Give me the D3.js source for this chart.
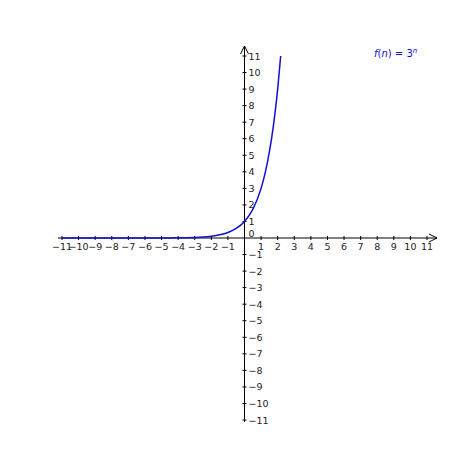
<!DOCTYPE html>
<html><head><meta charset="utf-8">
<script src="https://cdn.jsdelivr.net/npm/d3@7"></script>
<style>body{margin:0;background:#fff}text{font-family:"DejaVu Sans",sans-serif;font-size:9.5px;fill:#222}</style>
</head><body><div class="chart"></div>
<script>
let svgWidth = 474, svgHeight = 474;

let tickValues = d3.range(-11, 12).filter(d => d !== 0);
let curveN = [-11, -6, -4, -3, -2.5, -2, -1.5, -1, -0.5, 0, 0.5, 1, 1.25, 1.5, 1.75, 2, 2.18];
let curveF = [0, 0.0014, 0.012, 0.037, 0.064, 0.111, 0.192, 0.333, 0.577, 1, 1.73, 3, 3.95, 5.2, 6.84, 9, 11];

let svg = d3.select(".chart").append("svg")
    .attr("width", svgWidth).attr("height", svgHeight);

let x = d3.scaleLinear().domain([-11, 11]).range([62, 427]);
let y = d3.scaleLinear().domain([-11, 11]).range([420, 56]);

// axes lines
svg.append("line").attr("x1", 58).attr("x2", 437).attr("y1", y(0)).attr("y2", y(0)).attr("stroke", "#000");
svg.append("line").attr("x1", x(0)).attr("x2", x(0)).attr("y1", 422).attr("y2", 46).attr("stroke", "#000");
svg.append("path").attr("d", `M${437-8},${y(0)-4}L437,${y(0)}L${437-8},${y(0)+4}`).attr("fill", "none").attr("stroke", "#000");
svg.append("path").attr("d", `M${x(0)-4},${46+8}L${x(0)},46L${x(0)+4},${46+8}`).attr("fill", "none").attr("stroke", "#000");

// x ticks
svg.selectAll(".xt").data(tickValues).enter().append("line")
    .attr("x1", d => x(d)).attr("x2", d => x(d))
    .attr("y1", y(0) - 2).attr("y2", y(0) + 2).attr("stroke", "#000");
svg.selectAll(".xl").data(tickValues).enter().append("text")
    .attr("x", d => x(d)).attr("y", y(0) + 12).attr("text-anchor", "middle")
    .text(d => d < 0 ? "\u2212" + (-d) : d);

// y ticks
svg.selectAll(".yt").data(tickValues).enter().append("line")
    .attr("x1", x(0) - 2).attr("x2", x(0) + 2)
    .attr("y1", d => y(d)).attr("y2", d => y(d)).attr("stroke", "#000");
svg.selectAll(".yl").data(tickValues).enter().append("text")
    .attr("x", x(0) + 4).attr("y", d => y(d) + 3.5)
    .text(d => d < 0 ? "\u2212" + (-d) : d);

svg.append("text").attr("x", x(0) + 4).attr("y", y(0) - 1).text("0");

// curve
let pts = curveN.map((n, i) => [n, curveF[i]]);
svg.append("path").datum(pts)
    .attr("fill", "none").attr("stroke", "#1010d0").attr("stroke-width", 1.5)
    .attr("d", d3.line().x(d => x(d[0])).y(d => y(d[1])).curve(d3.curveMonotoneX));

// legend label
let lbl = svg.append("text").attr("x", 374).attr("y", 57).style("fill", "#1010d0").style("font-size", "10px");
lbl.append("tspan").attr("font-style", "italic").text("f");
lbl.append("tspan").text("(");
lbl.append("tspan").attr("font-style", "italic").text("n");
lbl.append("tspan").text(") = 3");
lbl.append("tspan").attr("font-style", "italic").attr("dy", -4).style("font-size", "7px").text("n");
</script></body></html>
